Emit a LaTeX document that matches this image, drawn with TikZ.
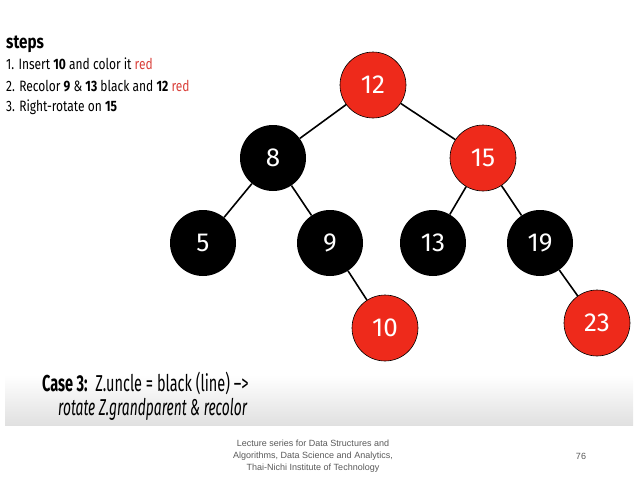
\documentclass[tikz,border=0pt]{standalone}
\usepackage{fontspec}
\setmainfont{Fira Sans}
\newfontfamily\footfont{Liberation Sans}
\definecolor{nred}{HTML}{EE2A1B}
\definecolor{tred}{HTML}{D9403A}
\newcommand{\narrow}[2][0.8]{\scalebox{#1}[1]{#2}}
\begin{document}
\begin{tikzpicture}[x=1pt,y=-1pt,
  bn/.style={circle,fill=black,minimum size=66pt,inner sep=0,text=white,font=\fontsize{26}{26}\selectfont},
  rn/.style={circle,fill=nred,draw=black,line width=0.6pt,minimum size=66pt,inner sep=0,text=white,font=\fontsize{26}{26}\selectfont},
  edge/.style={line width=1.6pt}]
\useasboundingbox (0,0) rectangle (638,479);
\shade[top color=white,bottom color=black!12] (5,375) rectangle (633,425);
\node[anchor=west,inner sep=0,font=\bfseries\fontsize{19}{19}\selectfont] (st) at (6,44) {\narrow{steps}};
\node[anchor=west,inner sep=0,font=\fontsize{15}{15}\selectfont] (s1) at (6,64) {\narrow{1. Insert \textbf{10} and color it \textcolor{tred}{red}}};
\node[anchor=west,inner sep=0,font=\fontsize{15}{15}\selectfont] (s2) at (6,86) {\narrow{2. Recolor \textbf{9} \& \textbf{13} black and \textbf{12} \textcolor{tred}{red}}};
\node[anchor=west,inner sep=0,font=\fontsize{15}{15}\selectfont] (s3) at (6,107) {\narrow{3. Right-rotate on \textbf{15}}};
\node[rn] (n12) at (373,85) {12};
\node[bn] (n8) at (273,158) {8};
\node[rn] (n15) at (483,158) {15};
\node[bn] (n5) at (203,243) {5};
\node[bn] (n9) at (330,243) {9};
\node[bn] (n13) at (433,243) {13};
\node[bn] (n19) at (540,243) {19};
\node[rn] (n10) at (385,328) {10};
\node[rn] (n23) at (597,323) {23};
\foreach \a/\b in {n12/n8,n12/n15,n8/n5,n8/n9,n15/n13,n15/n19,n9/n10,n19/n23}
  \draw[edge] (\a) -- (\b);
\node[anchor=west,inner sep=0,font=\fontsize{23}{23}\selectfont] (c1) at (42,383) {\narrow[0.63]{\textbf{Case 3:}\ \ Z.uncle = black (line) --{>}}};
\node[anchor=west,inner sep=0,font=\itshape\fontsize{23}{23}\selectfont] (c2) at (58,409) {\narrow[0.6]{rotate Z.grandparent \& recolor}};
\node[align=center,text=black!65,font=\footfont\fontsize{9}{12}\selectfont] (ft) at (313,456) {Lecture series for Data Structures and\\Algorithms, Data Science and Analytics,\\Thai-Nichi Institute of Technology};
\node[text=black!65,font=\footfont\fontsize{9}{12}\selectfont] (pg) at (581,456) {76};
\end{tikzpicture}
\end{document}
